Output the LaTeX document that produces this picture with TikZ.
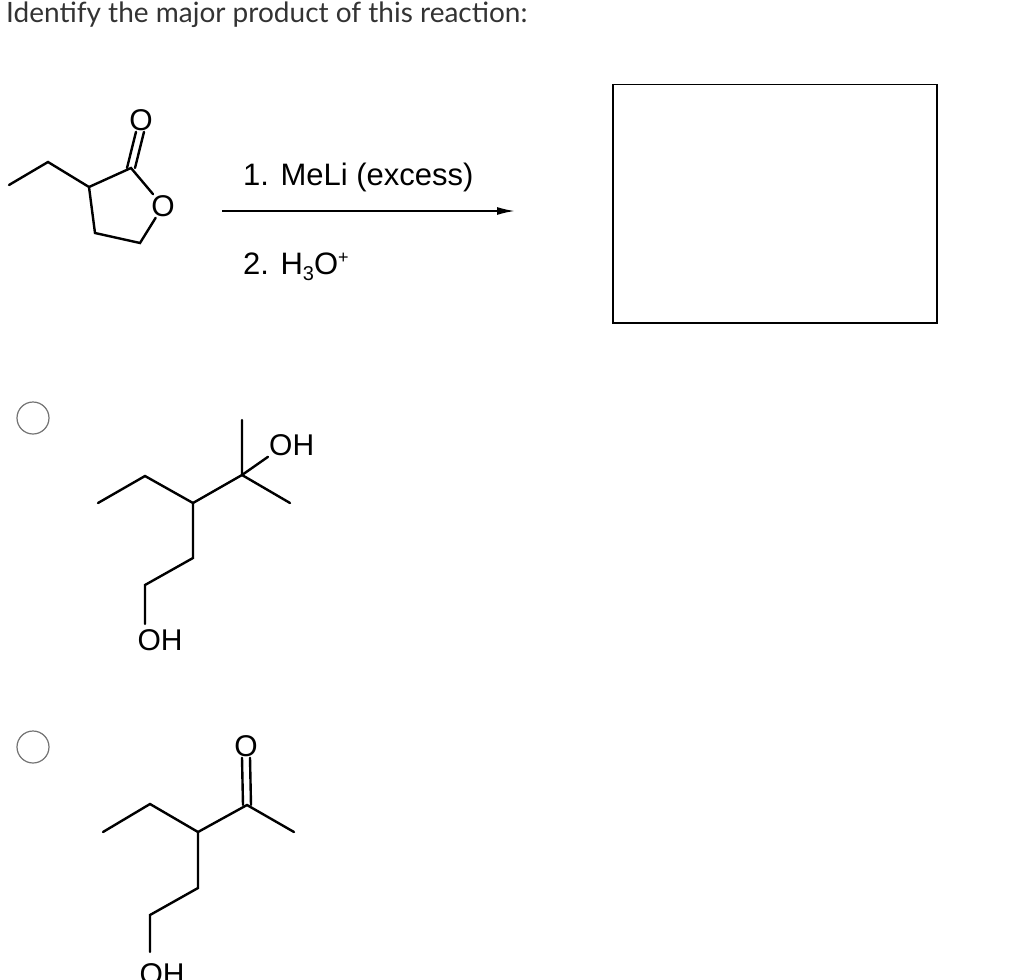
\documentclass[tikz,border=0pt]{standalone}
\usepackage{fontspec}
\setmainfont{Lato}
\newfontfamily\arial{Liberation Sans}
\usetikzlibrary{calc,arrows.meta}
\begin{document}
\begin{tikzpicture}[x=1pt,y=-1pt,
  bond/.style={line width=2.4pt,line cap=round},
  atom/.style={font=\arial\fontsize{30}{30}\selectfont,inner sep=1pt,fill=white},
  lbl/.style={font=\arial\fontsize{31}{31}\selectfont,inner sep=0pt},
  radio/.style={circle,draw=black!55,line width=1.2pt,minimum size=32pt,inner sep=0pt}]
\useasboundingbox (0,0) rectangle (1024,979);
\node[anchor=north west,inner sep=0pt,text=black!80,font=\fontsize{28}{28}\selectfont] (title) at (6,2) {Identify the major product of this reaction:};
% reactant
\coordinate (a1) at (9,185); \coordinate (a2) at (48,162); \coordinate (a3) at (89,187);
\coordinate (a4) at (131,168); \coordinate (a6) at (140,243); \coordinate (a7) at (95,233);
\node[atom] (o1) at (163,206) {O};
\node[atom] (o2) at (141,120) {O};
\draw[bond] (a1)--(a2)--(a3)--(a4)--(o1)--(a6)--(a7)--(a3);
\draw[bond] ($(a4)+(-4,0)$) -- ($(o2.south)+(-5,0)$);
\draw[bond] ($(a4)+(4,0)$) -- ($(o2.south)+(3,0)$);
% arrow
\coordinate (r1) at (222,211); \coordinate (r2) at (515,211);
\draw[line width=1.8pt,-{Latex[length=18pt,width=8pt]}] (r1)--(r2);
\node[lbl,anchor=west] (t1) at (243,177) {1. MeLi (excess)};
\node[lbl,anchor=west] (t2) at (243,267) {2. H\raisebox{-6pt}{\fontsize{20}{20}\selectfont 3}O\raisebox{11pt}{\fontsize{18}{18}\selectfont +}};
\node[draw,line width=1.5pt,minimum width=324pt,minimum height=238pt,anchor=north west] (box) at (612,84) {};
% radios
\node[radio] (rb1) at (33,418) {};
\node[radio] (rb2) at (33,747) {};
% option 1
\coordinate (b1) at (98,503); \coordinate (b2) at (145,476); \coordinate (b3) at (193,503);
\coordinate (b4) at (242,475); \coordinate (b5) at (242,420); \coordinate (b7) at (290,503);
\coordinate (b8) at (193,558); \coordinate (b9) at (145,585); \coordinate (b10) at (145,624);
\node[atom,anchor=west] (oh1) at (268,445) {OH};
\node[atom] (oh2) at (160,640) {OH};
\draw[bond] (b1)--(b2)--(b3)--(b4)--(b5);
\draw[bond] (b4)--(oh1.south west); \draw[bond] (b4)--(b7);
\draw[bond] (b3)--(b8)--(b9)--(b10);
% option 2
\coordinate (c1) at (103,832); \coordinate (c2) at (150,804); \coordinate (c3) at (198,832);
\coordinate (c4) at (247,805); \coordinate (c5) at (294,832);
\coordinate (c8) at (198,888); \coordinate (c9) at (150,915); \coordinate (c10) at (150,952);
\node[atom] (o3) at (246,746) {O};
\node[atom] (oh3) at (162,974) {OH};
\draw[bond] (c1)--(c2)--(c3)--(c4)--(c5);
\draw[bond] ($(c4)+(-4,0)$) -- ($(o3.south)+(-4,0)$);
\draw[bond] ($(c4)+(4,0)$) -- ($(o3.south)+(4,0)$);
\draw[bond] (c3)--(c8)--(c9)--(c10);
\end{tikzpicture}
\end{document}
